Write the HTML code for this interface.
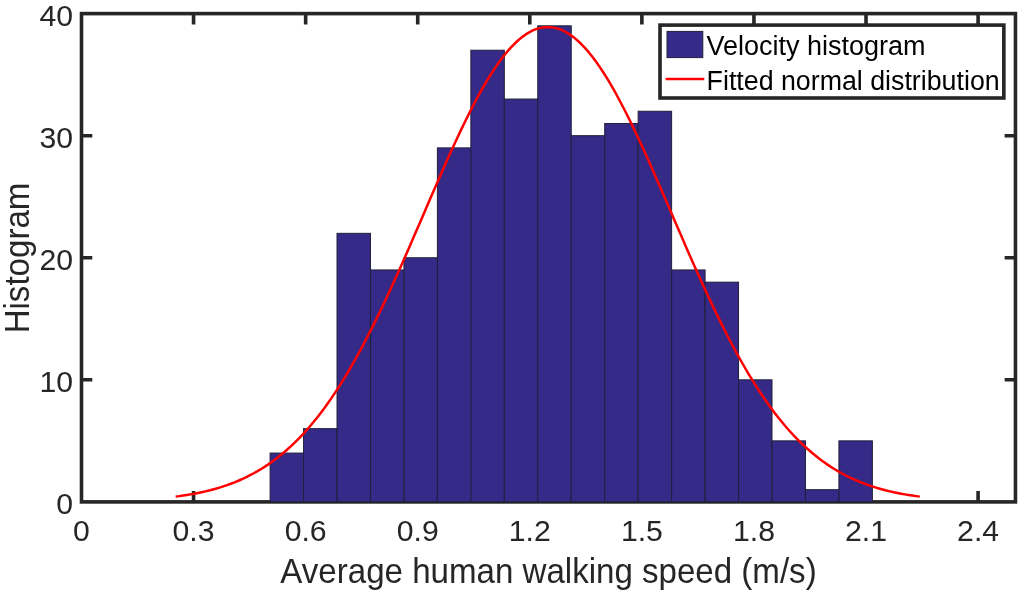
<!DOCTYPE html>
<html><head><meta charset="utf-8"><title>Velocity histogram</title>
<style>html,body{margin:0;padding:0;background:#fff}svg{display:block}text{font-family:"Liberation Sans",Arial,sans-serif}</style></head><body>
<svg width="1024" height="596" viewBox="0 0 1024 596">
<rect width="1024" height="596" fill="#fff"/>
<rect x="81.5" y="13.6" width="933.95" height="488.29999999999995" fill="#fff" stroke="#262626" stroke-width="3.6"/>
<path d="M193.57 501.9V491.09999999999997M193.57 13.6V24.4M305.65 501.9V491.09999999999997M305.65 13.6V24.4M417.72 501.9V491.09999999999997M417.72 13.6V24.4M529.80 501.9V491.09999999999997M529.80 13.6V24.4M641.87 501.9V491.09999999999997M641.87 13.6V24.4M753.94 501.9V491.09999999999997M753.94 13.6V24.4M866.02 501.9V491.09999999999997M866.02 13.6V24.4M978.09 501.9V491.09999999999997M978.09 13.6V24.4M81.5 379.82H92.3M1015.45 379.82H1004.6500000000001M81.5 257.75H92.3M1015.45 257.75H1004.6500000000001M81.5 135.68H92.3M1015.45 135.68H1004.6500000000001" stroke="#262626" stroke-width="3.6" fill="none"/>
<rect x="270.10" y="453.07" width="33.46" height="48.83" fill="#352a87" stroke="#20203a" stroke-width="1"/>
<rect x="303.56" y="428.65" width="33.46" height="73.25" fill="#352a87" stroke="#20203a" stroke-width="1"/>
<rect x="337.02" y="233.33" width="33.46" height="268.56" fill="#352a87" stroke="#20203a" stroke-width="1"/>
<rect x="370.48" y="269.96" width="33.46" height="231.94" fill="#352a87" stroke="#20203a" stroke-width="1"/>
<rect x="403.94" y="257.75" width="33.46" height="244.15" fill="#352a87" stroke="#20203a" stroke-width="1"/>
<rect x="437.40" y="147.88" width="33.46" height="354.02" fill="#352a87" stroke="#20203a" stroke-width="1"/>
<rect x="470.86" y="50.22" width="33.46" height="451.68" fill="#352a87" stroke="#20203a" stroke-width="1"/>
<rect x="504.32" y="99.05" width="33.46" height="402.85" fill="#352a87" stroke="#20203a" stroke-width="1"/>
<rect x="537.78" y="25.81" width="33.46" height="476.09" fill="#352a87" stroke="#20203a" stroke-width="1"/>
<rect x="571.24" y="135.68" width="33.46" height="366.22" fill="#352a87" stroke="#20203a" stroke-width="1"/>
<rect x="604.70" y="123.47" width="33.46" height="378.43" fill="#352a87" stroke="#20203a" stroke-width="1"/>
<rect x="638.16" y="111.26" width="33.46" height="390.64" fill="#352a87" stroke="#20203a" stroke-width="1"/>
<rect x="671.62" y="269.96" width="33.46" height="231.94" fill="#352a87" stroke="#20203a" stroke-width="1"/>
<rect x="705.08" y="282.16" width="33.46" height="219.74" fill="#352a87" stroke="#20203a" stroke-width="1"/>
<rect x="738.54" y="379.82" width="33.46" height="122.07" fill="#352a87" stroke="#20203a" stroke-width="1"/>
<rect x="772.00" y="440.86" width="33.46" height="61.04" fill="#352a87" stroke="#20203a" stroke-width="1"/>
<rect x="805.46" y="489.69" width="33.46" height="12.21" fill="#352a87" stroke="#20203a" stroke-width="1"/>
<rect x="838.92" y="440.86" width="33.46" height="61.04" fill="#352a87" stroke="#20203a" stroke-width="1"/>
<polyline points="175.64,496.62 179.36,496.13 183.08,495.60 186.80,495.02 190.53,494.39 194.25,493.72 197.97,492.99 201.69,492.21 205.41,491.37 209.13,490.47 212.85,489.50 216.57,488.46 220.29,487.34 224.01,486.15 227.73,484.87 231.46,483.51 235.18,482.06 238.90,480.51 242.62,478.86 246.34,477.11 250.06,475.24 253.78,473.27 257.50,471.17 261.22,468.95 264.94,466.60 268.66,464.12 272.38,461.50 276.11,458.74 279.83,455.83 283.55,452.76 287.27,449.55 290.99,446.17 294.71,442.62 298.43,438.91 302.15,435.02 305.87,430.96 309.59,426.72 313.31,422.30 317.03,417.70 320.76,412.90 324.48,407.92 328.20,402.75 331.92,397.39 335.64,391.84 339.36,386.10 343.08,380.17 346.80,374.05 350.52,367.75 354.24,361.25 357.96,354.58 361.69,347.73 365.41,340.71 369.13,333.52 372.85,326.16 376.57,318.65 380.29,310.99 384.01,303.19 387.73,295.26 391.45,287.20 395.17,279.03 398.89,270.76 402.61,262.39 406.34,253.95 410.06,245.43 413.78,236.87 417.50,228.27 421.22,219.64 424.94,211.00 428.66,202.36 432.38,193.75 436.10,185.17 439.82,176.65 443.54,168.20 447.26,159.84 450.99,151.58 454.71,143.45 458.43,135.46 462.15,127.62 465.87,119.97 469.59,112.50 473.31,105.25 477.03,98.23 480.75,91.45 484.47,84.94 488.19,78.70 491.91,72.76 495.64,67.12 499.36,61.80 503.08,56.82 506.80,52.19 510.52,47.92 514.24,44.03 517.96,40.51 521.68,37.38 525.40,34.66 529.12,32.34 532.84,30.44 536.57,28.95 540.29,27.88 544.01,27.24 547.73,27.03 551.45,27.24 555.17,27.88 558.89,28.95 562.61,30.44 566.33,32.34 570.05,34.66 573.77,37.38 577.49,40.51 581.22,44.03 584.94,47.92 588.66,52.19 592.38,56.82 596.10,61.80 599.82,67.12 603.54,72.76 607.26,78.70 610.98,84.94 614.70,91.45 618.42,98.23 622.14,105.25 625.87,112.50 629.59,119.97 633.31,127.62 637.03,135.46 640.75,143.45 644.47,151.58 648.19,159.84 651.91,168.20 655.63,176.65 659.35,185.17 663.07,193.75 666.80,202.36 670.52,211.00 674.24,219.64 677.96,228.27 681.68,236.87 685.40,245.43 689.12,253.95 692.84,262.39 696.56,270.76 700.28,279.03 704.00,287.20 707.72,295.26 711.45,303.19 715.17,310.99 718.89,318.65 722.61,326.16 726.33,333.52 730.05,340.71 733.77,347.73 737.49,354.58 741.21,361.25 744.93,367.75 748.65,374.05 752.37,380.17 756.10,386.10 759.82,391.84 763.54,397.39 767.26,402.75 770.98,407.92 774.70,412.90 778.42,417.70 782.14,422.30 785.86,426.72 789.58,430.96 793.30,435.02 797.03,438.91 800.75,442.62 804.47,446.17 808.19,449.55 811.91,452.76 815.63,455.83 819.35,458.74 823.07,461.50 826.79,464.12 830.51,466.60 834.23,468.95 837.95,471.17 841.68,473.27 845.40,475.24 849.12,477.11 852.84,478.86 856.56,480.51 860.28,482.06 864.00,483.51 867.72,484.87 871.44,486.15 875.16,487.34 878.88,488.46 882.60,489.50 886.33,490.47 890.05,491.37 893.77,492.21 897.49,492.99 901.21,493.72 904.93,494.39 908.65,495.02 912.37,495.60 916.09,496.13 919.81,496.62" fill="none" stroke="#ff0000" stroke-width="2.5" stroke-linejoin="round"/>
<g font-size="30.2" fill="#262626">
<text x="81.50" y="540.5" text-anchor="middle">0</text>
<text x="193.57" y="540.5" text-anchor="middle">0.3</text>
<text x="305.65" y="540.5" text-anchor="middle">0.6</text>
<text x="417.72" y="540.5" text-anchor="middle">0.9</text>
<text x="529.80" y="540.5" text-anchor="middle">1.2</text>
<text x="641.87" y="540.5" text-anchor="middle">1.5</text>
<text x="753.94" y="540.5" text-anchor="middle">1.8</text>
<text x="866.02" y="540.5" text-anchor="middle">2.1</text>
<text x="978.09" y="540.5" text-anchor="middle">2.4</text>
<text x="73.0" y="514.20" text-anchor="end">0</text>
<text x="73.0" y="392.12" text-anchor="end">10</text>
<text x="73.0" y="270.05" text-anchor="end">20</text>
<text x="73.0" y="147.98" text-anchor="end">30</text>
<text x="73.0" y="25.90" text-anchor="end">40</text>
</g>
<text transform="translate(548.5 582.8) scale(1 1.04)" font-size="33.1" fill="#262626" text-anchor="middle">Average human walking speed (m/s)</text>
<text transform="translate(29.05 258) rotate(-90) scale(1 1.04)" font-size="33.1" fill="#262626" text-anchor="middle">Histogram</text>
<rect x="660" y="25.1" width="343.85" height="72.9" fill="#fff" stroke="#262626" stroke-width="3.6"/>
<rect x="667" y="31.4" width="35.8" height="26.2" fill="#352a87" stroke="#20203a" stroke-width="1"/>
<path d="M665.6 78.9H704.3" stroke="#ff0000" stroke-width="2.5"/>
<g font-size="27" fill="#000"><text x="706.4" y="55">Velocity histogram</text><text x="706.6" y="89.6" font-size="26.78">Fitted normal distribution</text></g>
</svg></body></html>
